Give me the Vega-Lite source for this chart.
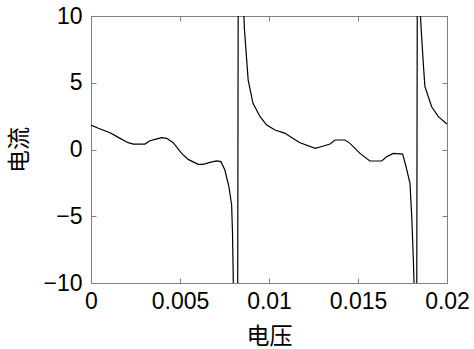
{
  "$schema": "https://vega.github.io/schema/vega-lite/v6.json",
  "autosize": {"type": "none"},
  "width": 356,
  "height": 267,
  "padding": {"left": 91, "top": 16, "right": 27, "bottom": 66},
  "background": "white",
  "config": {
    "view": {"stroke": "#808080", "strokeWidth": 1},
    "axis": {
      "domainColor": "#808080",
      "tickColor": "#808080",
      "grid": false,
      "labelFont": "Liberation Sans",
      "labelFontSize": 23,
      "labelColor": "black",
      "titleFont": "Noto Sans CJK SC",
      "titleFontSize": 23,
      "titleFontWeight": "normal",
      "titleColor": "black"
    }
  },
  "data": {
    "values": [
      {"t": 0.0, "i": 1.83},
      {"t": 0.00041, "i": 1.59},
      {"t": 0.00107, "i": 1.26},
      {"t": 0.00153, "i": 0.91},
      {"t": 0.00209, "i": 0.51},
      {"t": 0.00238, "i": 0.41},
      {"t": 0.00303, "i": 0.41},
      {"t": 0.00331, "i": 0.66},
      {"t": 0.0036, "i": 0.76},
      {"t": 0.00397, "i": 0.89},
      {"t": 0.00425, "i": 0.84},
      {"t": 0.00462, "i": 0.51},
      {"t": 0.00509, "i": -0.29},
      {"t": 0.00546, "i": -0.74},
      {"t": 0.00602, "i": -1.11},
      {"t": 0.0063, "i": -1.11},
      {"t": 0.00668, "i": -0.96},
      {"t": 0.00705, "i": -0.86},
      {"t": 0.0073, "i": -0.91},
      {"t": 0.00752, "i": -1.54},
      {"t": 0.00775, "i": -2.79},
      {"t": 0.0079, "i": -4.16},
      {"t": 0.00795, "i": -6.25},
      {"t": 0.00802, "i": -12},
      {"t": 0.00824, "i": -12},
      {"t": 0.00827, "i": 12},
      {"t": 0.00853, "i": 12},
      {"t": 0.00862, "i": 9.0},
      {"t": 0.00883, "i": 5.2},
      {"t": 0.0091, "i": 3.46},
      {"t": 0.0095, "i": 2.46},
      {"t": 0.00987, "i": 1.83},
      {"t": 0.01034, "i": 1.46},
      {"t": 0.01091, "i": 1.21},
      {"t": 0.0112, "i": 0.96},
      {"t": 0.01174, "i": 0.51},
      {"t": 0.0126, "i": 0.09},
      {"t": 0.01306, "i": 0.26},
      {"t": 0.01343, "i": 0.41},
      {"t": 0.01371, "i": 0.71},
      {"t": 0.01427, "i": 0.71},
      {"t": 0.01455, "i": 0.46},
      {"t": 0.01511, "i": -0.29},
      {"t": 0.01567, "i": -0.86},
      {"t": 0.01633, "i": -0.86},
      {"t": 0.01661, "i": -0.54},
      {"t": 0.01698, "i": -0.29},
      {"t": 0.01751, "i": -0.34},
      {"t": 0.0177, "i": -1.29},
      {"t": 0.01792, "i": -2.53},
      {"t": 0.01802, "i": -5.03},
      {"t": 0.01811, "i": -8.28},
      {"t": 0.01819, "i": -12},
      {"t": 0.0183, "i": -12},
      {"t": 0.01833, "i": 12},
      {"t": 0.01843, "i": 12},
      {"t": 0.01855, "i": 9.0},
      {"t": 0.01868, "i": 6.2},
      {"t": 0.01876, "i": 4.7},
      {"t": 0.01914, "i": 3.2},
      {"t": 0.01951, "i": 2.46},
      {"t": 0.02, "i": 1.91}
    ]
  },
  "layer": [
    {
      "mark": {"type": "line", "color": "black", "strokeWidth": 1.2, "clip": true},
      "encoding": {
        "x": {
          "field": "t", "type": "quantitative",
          "scale": {"domain": [0, 0.02], "nice": false},
          "axis": {"orient": "bottom", "values": [0, 0.005, 0.01, 0.015, 0.02], "format": "~g", "title": "电压", "tickSize": -5, "labelPadding": 12, "titlePadding": 12, "labelFlush": false}
        },
        "y": {
          "field": "i", "type": "quantitative",
          "scale": {"domain": [-10, 10], "nice": false},
          "axis": {"orient": "left", "values": [-10, -5, 0, 5, 10], "title": "电流", "tickSize": -5, "labelPadding": 14, "titlePadding": 11, "labelFlush": false}
        }
      }
    },
    {
      "mark": {"type": "line", "opacity": 0, "clip": true},
      "encoding": {
        "x": {
          "field": "t", "type": "quantitative",
          "scale": {"domain": [0, 0.02], "nice": false},
          "axis": {"orient": "top", "values": [0, 0.005, 0.01, 0.015, 0.02], "labels": false, "title": null, "tickSize": -5}
        },
        "y": {
          "field": "i", "type": "quantitative",
          "scale": {"domain": [-10, 10], "nice": false},
          "axis": {"orient": "right", "values": [-10, -5, 0, 5, 10], "labels": false, "title": null, "tickSize": -5}
        }
      }
    }
  ],
  "resolve": {"axis": {"x": "independent", "y": "independent"}}
}
